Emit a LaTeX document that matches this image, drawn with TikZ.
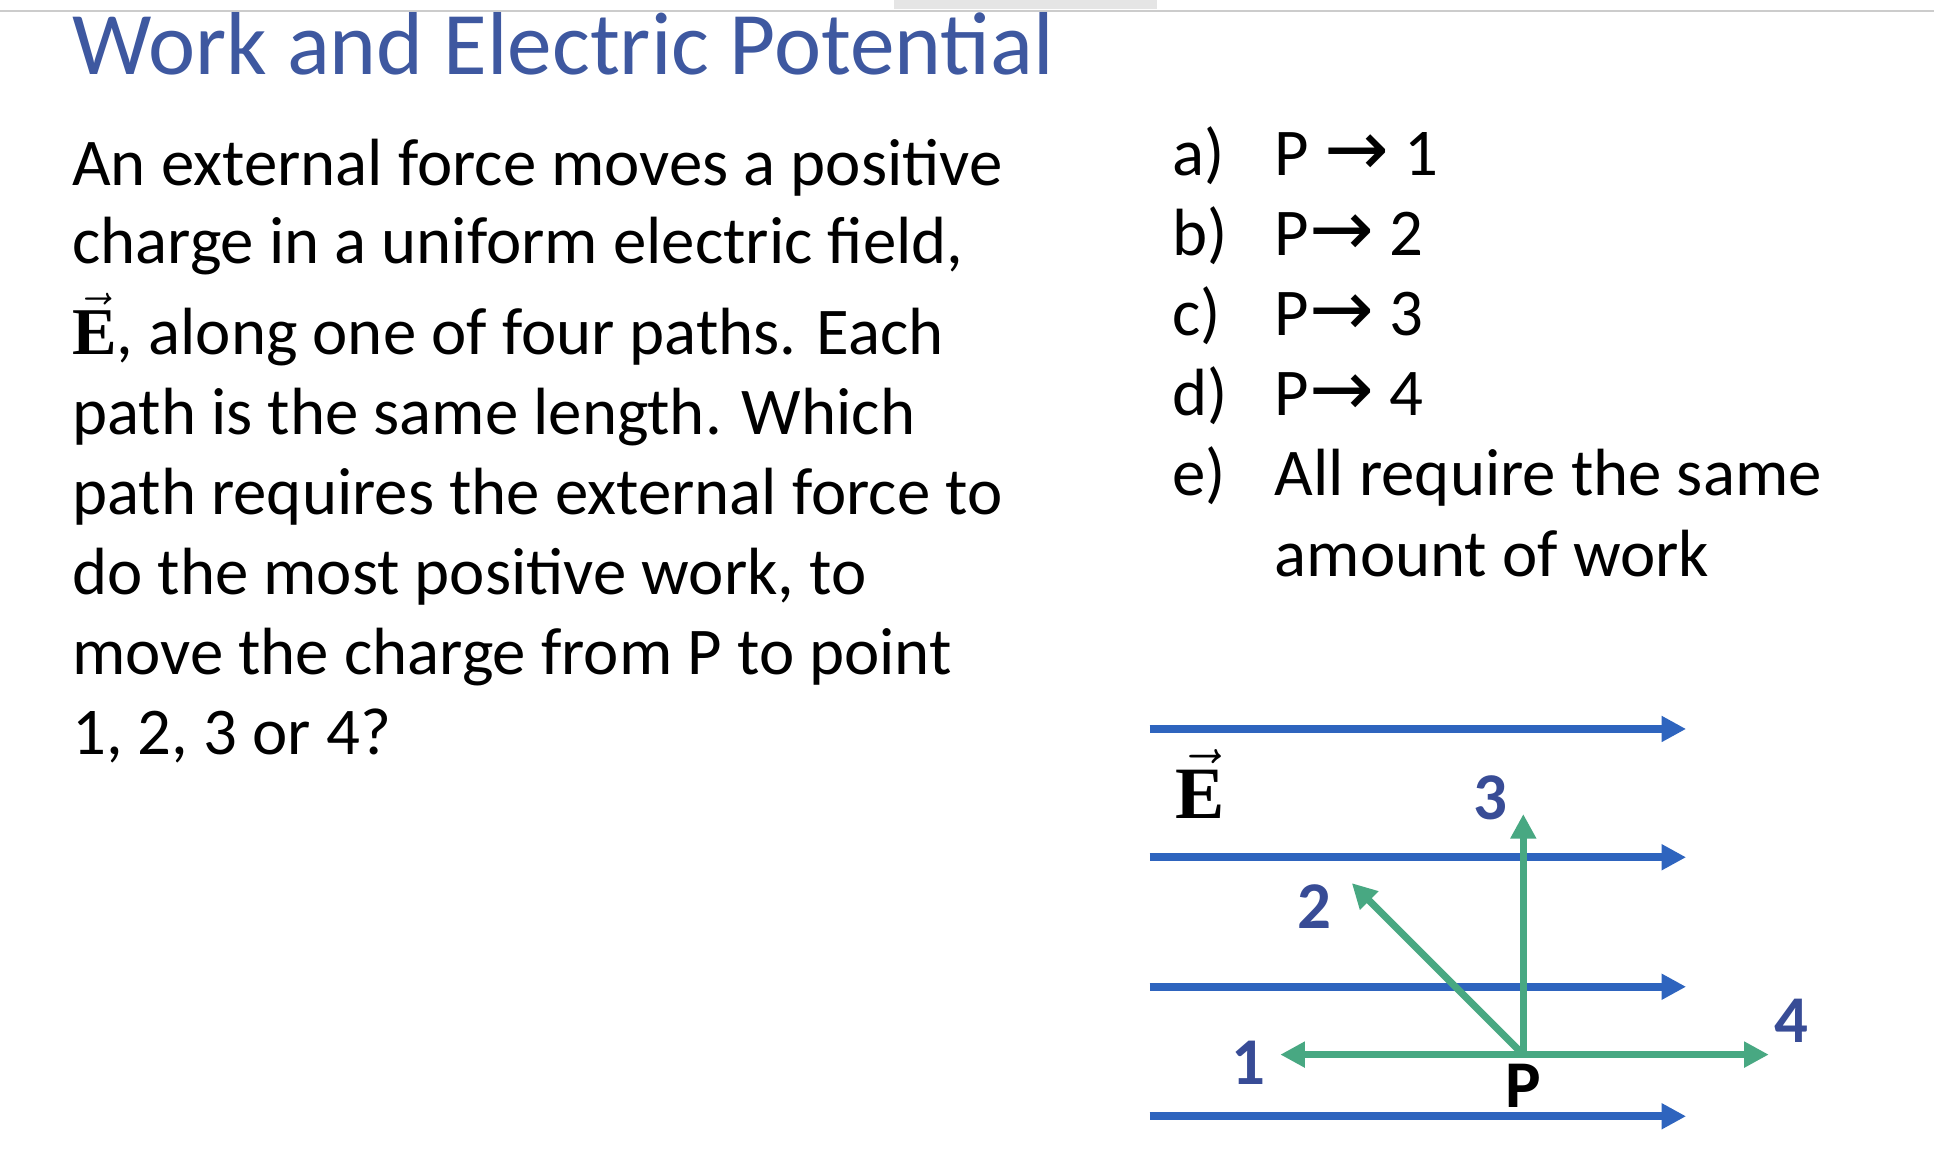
\documentclass[tikz,border=0pt]{standalone}
\usepackage{fontspec}
\setmainfont{Carlito}
\newfontfamily\lserif{Liberation Serif}
\newfontfamily\djv{DejaVu Sans}
\usetikzlibrary{arrows.meta}
\definecolor{ttl}{RGB}{62,88,160}
\definecolor{fld}{RGB}{46,100,190}
\definecolor{grn}{RGB}{72,168,130}
\definecolor{lbl}{RGB}{56,76,150}
\newcommand{\Evec}{$\vec{\hbox{\lserif\bfseries E}}$}
\newcommand{\arr}{{\djv\fontsize{22}{22}\selectfont →}}
\begin{document}
\begin{tikzpicture}[x=0.012334cm,y=-0.012334cm,
  body/.style={anchor=base west,inner sep=0pt,font=\fontsize{19}{22}\selectfont},
  fieldline/.style={draw=fld,line width=2.2pt,-{Triangle[length=7pt,width=7pt]}},
  path/.style={draw=grn,line width=2pt,-{Triangle[length=7pt,width=7pt]}},
  num/.style={inner sep=0pt,font=\fontsize{19}{22}\selectfont\bfseries,text=lbl}]
\useasboundingbox (0,0) rectangle (1568,934);
\fill[white] (0,0) rectangle (1568,934);
\draw[gray!40,line width=0.6pt] (0,9) -- (1568,9);
\fill[gray!20] (725,0) rectangle (938,7);
\node[anchor=base west,inner sep=0pt,text=ttl,font=\fontsize{25.4}{30}\selectfont] (title) at (58,60) {Work and Electric Potential};
\node[body] (l1) at (58,150) {An external force moves a positive};
\node[body] (l2) at (58,214) {charge in a uniform electric field,};
\node[body] (l3) at (58,287) {\Evec, along one of four paths. Each};
\node[body] (l4) at (58,352) {path is the same length. Which};
\node[body] (l5) at (58,417) {path requires the external force to};
\node[body] (l6) at (58,482) {do the most positive work, to};
\node[body] (l7) at (58,547) {move the charge from P to point};
\node[body] (l8) at (58,612) {1, 2, 3 or 4?};
\node[body] (oa) at (950,142) {a)};
\node[body] (ta) at (1033,142) {P \arr\ 1};
\node[body] (ob) at (950,207) {b)};
\node[body] (tb) at (1033,207) {P\arr\ 2};
\node[body] (oc) at (950,272) {c)};
\node[body] (tc) at (1033,272) {P\arr\ 3};
\node[body] (od) at (950,337) {d)};
\node[body] (td) at (1033,337) {P\arr\ 4};
\node[body] (oe) at (950,402) {e)};
\node[body] (te) at (1033,402) {All require the same};
\node[body] (te2) at (1033,467) {amount of work};
\foreach \y [count=\i] in {591,695,800,905}{
  \coordinate (fs\i) at (932,\y); \coordinate (fe\i) at (1367,\y);
  \draw[fieldline] (fs\i) -- (fe\i);}
\coordinate (P) at (1235,855);
\coordinate (p1) at (1038,855);
\coordinate (p2) at (1096,716);
\coordinate (p3) at (1235,660);
\coordinate (p4) at (1434,855);
\draw[path] (P) -- (p1);
\draw[path] (P) -- (p2);
\draw[path] (P) -- (p3);
\draw[path] (P) -- (p4);
\node[num] (n1) at (1012,862) {1};
\node[num] (n2) at (1066,735) {2};
\node[num] (n3) at (1208,647) {3};
\node[num] (n4) at (1452,828) {4};
\node[inner sep=0pt,font=\fontsize{19}{22}\selectfont\bfseries] (nP) at (1235,880) {P};
\node[inner sep=0pt,font=\fontsize{21}{24}\selectfont] (E) at (973,636) {\Evec};
\end{tikzpicture}
\end{document}
